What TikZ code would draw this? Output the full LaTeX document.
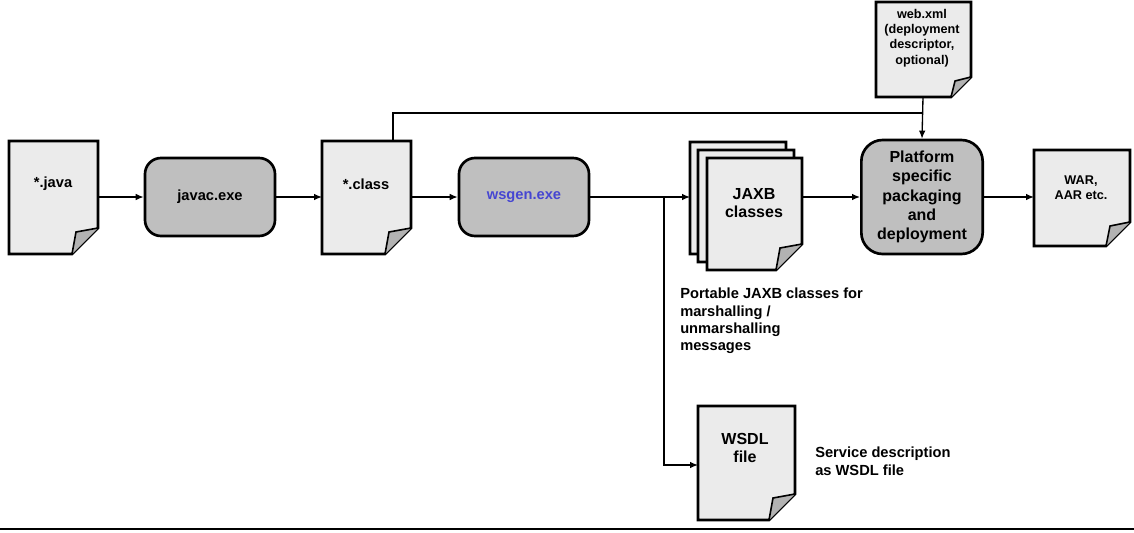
\documentclass[tikz,border=0pt]{standalone}
\usepackage{fontspec}
\setmainfont{Liberation Sans}
\usetikzlibrary{arrows.meta}
\definecolor{docfill}{gray}{0.92}
\definecolor{procfill}{gray}{0.75}
\definecolor{foldfill}{gray}{0.7}
\tikzset{
  line/.style={line width=1pt,-{Latex[length=6pt,width=5pt]}},
  proc/.style={draw,line width=2pt,fill=procfill,rounded corners=12pt,font=\bfseries\fontsize{11}{12}\selectfont,align=center,inner sep=0pt},
  lbl/.style={font=\bfseries\fontsize{11}{13}\selectfont,align=left,anchor=north west,inner sep=0pt},
}
\newcommand{\docshape}[5]{% x1 y1 x2 y2 fold
  \filldraw[line width=2pt,fill=docfill,line join=miter] (#1,#2) -- (#3,#2) -- (#3,#4-#5) -- (#3-#5,#4) -- (#1,#4) -- cycle;
  \filldraw[line width=1.2pt,fill=foldfill] (#3,#4-#5) -- (#3-#5+4,#4-#5+4) -- (#3-#5,#4) ;
}
\begin{document}
\begin{tikzpicture}[x=0.75pt,y=-0.75pt]
\useasboundingbox (0,0) rectangle (1134,532);
% docs
\docshape{9}{141}{98}{254}{26}
\node[font=\bfseries\fontsize{11}{12}\selectfont] (java) at (53,184) {*.java};
\coordinate (javaR) at (98,197);
\node[proc,minimum width=97.5pt,minimum height=58.5pt] (javac) at (210,197) {javac.exe};
\docshape{322}{141}{411}{254}{26}
\node[font=\bfseries\fontsize{11}{12}\selectfont] (class) at (366,184) {*.class};
\coordinate (classR) at (411,197);
\coordinate (classL) at (322,197);
\coordinate (classT) at (393,141);
\node[proc,minimum width=97.5pt,minimum height=58.5pt,text={rgb,255:red,70;green,70;blue,210}] (wsgen) at (524,197) {wsgen.exe};
% JAXB stack
\docshape{690}{142}{786}{254}{26}
\docshape{698}{150}{794}{262}{26}
\docshape{707}{158}{802}{270}{26}
\node[font=\bfseries\fontsize{12}{14}\selectfont,align=center] (jaxb) at (754,203) {JAXB\\classes};
\coordinate (jaxbL) at (690,197);
\coordinate (jaxbR) at (802,197);
\node[proc,rounded corners=16pt,minimum width=91pt,minimum height=85.5pt,font=\bfseries\fontsize{12}{14.5}\selectfont] (plat) at (922,197) {Platform\\specific\\packaging\\and\\deployment};
\docshape{1034}{150}{1130}{246}{24}
\node[font=\bfseries\fontsize{9.5}{11}\selectfont,align=center] (war) at (1081,188) {WAR,\\AAR etc.};
\coordinate (warL) at (1034,197);
\docshape{876}{2}{971}{97}{20}
\node[font=\bfseries\fontsize{9.5}{11.5}\selectfont,align=center] (web) at (922,38) {web.xml\\(deployment\\descriptor,\\optional)};
\coordinate (webB) at (923,97);
\docshape{698}{406}{795}{520}{26}
\node[font=\bfseries\fontsize{12}{14}\selectfont,align=center] (wsdl) at (745,448) {WSDL\\file};
\coordinate (wsdlL) at (698,465);
% texts
\node[lbl] (port) at (680,288) {Portable JAXB classes for\\marshalling /\\unmarshalling\\messages};
\node[lbl] (svc) at (815,447) {Service description\\as WSDL file};
% connectors
\draw[line] (javaR) -- (javac);
\draw[line] (javac) -- (classL);
\draw[line] (classR) -- (wsgen);
\draw[line] (wsgen) -- (jaxbL);
\coordinate (br) at (664,197);
\draw[line] (br) |- (wsdlL);
\draw[line] (jaxbR) -- (plat);
\draw[line] (plat) -- (warL);
\draw[line] (webB) -- (plat.north);
\draw[line width=1pt] (classT) |- (923,113);
\draw[line width=1.5pt] (0,529) -- (1134,529);
\end{tikzpicture}
\end{document}
